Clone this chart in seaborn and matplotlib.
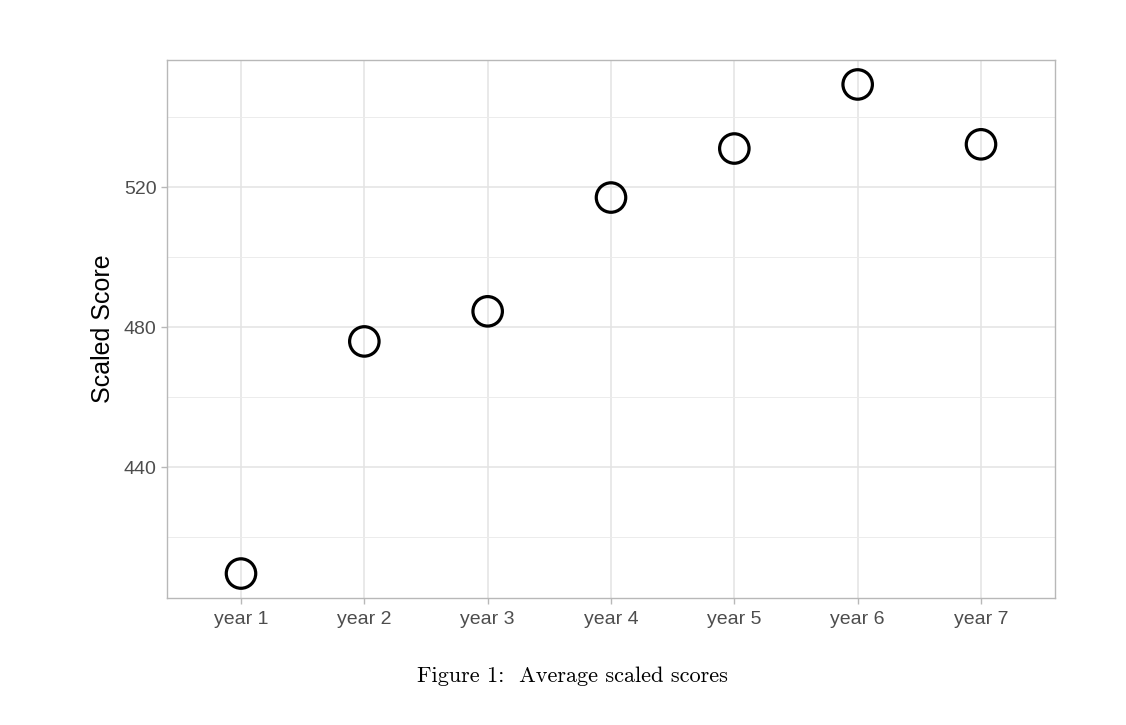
import matplotlib
matplotlib.use("Agg")
import matplotlib.pyplot as plt
import seaborn as sns
import pandas as pd
from matplotlib.ticker import MultipleLocator

years = ["year 1", "year 2", "year 3", "year 4", "year 5", "year 6", "year 7"]
scores = [409.7, 476.0, 484.6, 517.1, 531.1, 549.4, 532.3]
y_ticks = [440, 480, 520]

df = pd.DataFrame({"year": years, "score": scores})

sns.set_theme(style="white")
plt.rcParams["font.family"] = ["Liberation Sans", "DejaVu Sans"]

fig = plt.figure(figsize=(11.26, 7.25), dpi=100)
ax = fig.add_axes([167/1126, 1-598/725, (1055-167)/1126, (598-60)/725])

sns.scatterplot(data=df, x="year", y="score", ax=ax, s=450, facecolor="none",
                edgecolor="black", linewidth=2.3, zorder=3)

ax.set_xlim(-0.6, 6.6)
lo, hi = min(scores), max(scores)
pad = (hi - lo) * 0.05
ax.set_ylim(lo - pad, hi + pad)
ax.set_yticks(y_ticks)
ax.yaxis.set_minor_locator(MultipleLocator(20))

ax.grid(True, which="major", color="#e3e3e3", linewidth=1.1)
ax.grid(True, which="minor", color="#ececec", linewidth=0.7)
ax.set_axisbelow(True)
for sp in ax.spines.values():
    sp.set_color("#b8b8b8")
    sp.set_linewidth(1.0)

ax.tick_params(axis="both", which="major", length=4.5, width=1, color="#b8b8b8",
               labelsize=14, labelcolor="#4d4d4d", pad=3, left=True, bottom=True)
ax.tick_params(axis="x", which="major", pad=5)
ax.tick_params(axis="both", which="minor", length=0)

ax.set_xlabel("")
ax.set_ylabel("Scaled Score", fontsize=18, color="black", labelpad=6)

fig.text(572.5/1126, 1-676/725, "Figure 1:  Average scaled scores", ha="center", va="center",
         fontsize=16, family=["cmr10", "DejaVu Serif"], color="black")

fig.savefig("out.png", dpi=100)
